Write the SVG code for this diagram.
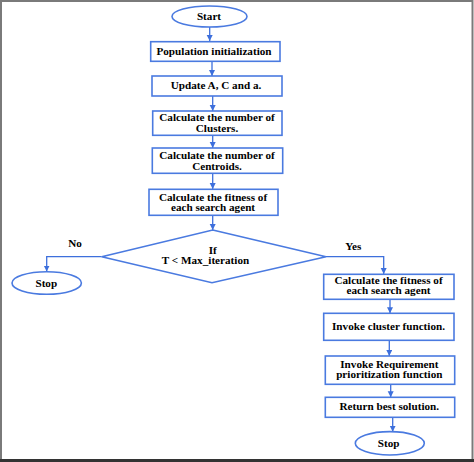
<svg xmlns="http://www.w3.org/2000/svg" width="474" height="462" viewBox="0 0 474 462">
<style>
.box{fill:#fff;stroke:#4a7ae0;stroke-width:1.6}
.ln{fill:none;stroke:#3d6fdc;stroke-width:1.3}
text{font-family:'Liberation Serif','Times New Roman',Times,serif;font-weight:bold;font-size:9.8px;fill:#000;text-anchor:middle}
</style>
<defs>
<marker id="ah" markerWidth="8" markerHeight="8" refX="6" refY="3" orient="auto" markerUnits="userSpaceOnUse">
<path d="M0,0 L6,3 L0,6 Z" fill="#3d6fdc"/>
</marker>
</defs>
<rect x="0" y="0" width="474" height="462" fill="#fff"/>
<rect x="1" y="1" width="471.5" height="459" fill="none" stroke="#7a7a7a" stroke-width="2"/>
<rect x="0" y="459" width="474" height="3" fill="#333"/>
<g id="connectors">
<line class="ln" x1="209.7" y1="27" x2="209.7" y2="41" marker-end="url(#ah)"/>
<line class="ln" x1="212" y1="61.5" x2="212" y2="76" marker-end="url(#ah)"/>
<line class="ln" x1="212.7" y1="96" x2="212.7" y2="111" marker-end="url(#ah)"/>
<line class="ln" x1="212.7" y1="135.5" x2="212.7" y2="148" marker-end="url(#ah)"/>
<line class="ln" x1="212.7" y1="173.5" x2="212.7" y2="189" marker-end="url(#ah)"/>
<line class="ln" x1="212.7" y1="215.5" x2="212.7" y2="230" marker-end="url(#ah)"/>
<polyline class="ln" points="101.7,256.7 46.7,256.7 46.7,271.5" marker-end="url(#ah)"/>
<polyline class="ln" points="326,256.7 383.7,256.7 383.7,274" marker-end="url(#ah)"/>
<line class="ln" x1="390" y1="299.5" x2="390" y2="313.3" marker-end="url(#ah)"/>
<line class="ln" x1="389.3" y1="340.5" x2="389.3" y2="356" marker-end="url(#ah)"/>
<line class="ln" x1="390.7" y1="384.5" x2="390.7" y2="397.3" marker-end="url(#ah)"/>
<line class="ln" x1="392.7" y1="417.5" x2="392.7" y2="431.7" marker-end="url(#ah)"/>
</g>
<g id="start">
<ellipse class="box" cx="209.5" cy="16.5" rx="37.5" ry="10.5"/>
<text transform="translate(209,19.5) scale(1.14,1)">Start</text>
</g>
<g id="init">
<rect class="box" x="150.7" y="41.7" width="129.3" height="19.6"/>
<text transform="translate(214,55) scale(1.14,1)">Population initialization</text>
</g>
<g id="update">
<rect class="box" x="152" y="76" width="130" height="20"/>
<text transform="translate(216,89) scale(1.14,1)">Update A, C and a.</text>
</g>
<g id="clusters">
<rect class="box" x="152.7" y="111" width="129.3" height="24.3"/>
<text transform="translate(217,120.5) scale(1.14,1)">Calculate the number of</text>
<text transform="translate(217,131.5) scale(1.14,1)">Clusters.</text>
</g>
<g id="centroids">
<rect class="box" x="152.3" y="148" width="130.4" height="25.3"/>
<text transform="translate(217,159) scale(1.14,1)">Calculate the number of</text>
<text transform="translate(217,169.5) scale(1.14,1)">Centroids.</text>
</g>
<g id="fitness1">
<rect class="box" x="149" y="189.3" width="129" height="26"/>
<text transform="translate(213,200.5) scale(1.14,1)">Calculate the fitness of</text>
<text transform="translate(213,211) scale(1.14,1)">each search agent</text>
</g>
<g id="decision">
<polygon class="box" points="212.7,230 326,256.7 212,282.7 101.7,256.7"/>
<text transform="translate(212.7,254) scale(1.14,1)">If</text>
<text transform="translate(205.5,264) scale(1.14,1)">T &lt; Max_iteration</text>
</g>
<g id="label-no"><text transform="translate(75,247.3) scale(1.14,1)">No</text></g>
<g id="label-yes"><text transform="translate(353.3,250) scale(1.14,1)">Yes</text></g>
<g id="stop-left">
<ellipse class="box" cx="46.7" cy="283" rx="34.7" ry="11.3"/>
<text transform="translate(46.3,286.7) scale(1.14,1)">Stop</text>
</g>
<g id="fitness2">
<rect class="box" x="323.7" y="274.3" width="130.3" height="25"/>
<text transform="translate(388.5,284) scale(1.14,1)">Calculate the fitness of</text>
<text transform="translate(388.5,294.3) scale(1.14,1)">each search agent</text>
</g>
<g id="cluster-fn">
<rect class="box" x="323.7" y="313.3" width="130.3" height="27"/>
<text transform="translate(388.5,330) scale(1.14,1)">Invoke cluster function.</text>
</g>
<g id="req-fn">
<rect class="box" x="325.3" y="356" width="129.4" height="28.3"/>
<text transform="translate(389.3,367.5) scale(1.14,1)">Invoke Requirement</text>
<text transform="translate(389.3,377.7) scale(1.14,1)">prioritization function</text>
</g>
<g id="return">
<rect class="box" x="325.3" y="397.3" width="129.4" height="20"/>
<text transform="translate(389.3,410.3) scale(1.14,1)">Return best solution.</text>
</g>
<g id="stop-right">
<ellipse class="box" cx="389.8" cy="443.3" rx="34.5" ry="11.7"/>
<text transform="translate(388.7,446.7) scale(1.14,1)">Stop</text>
</g>
</svg>
